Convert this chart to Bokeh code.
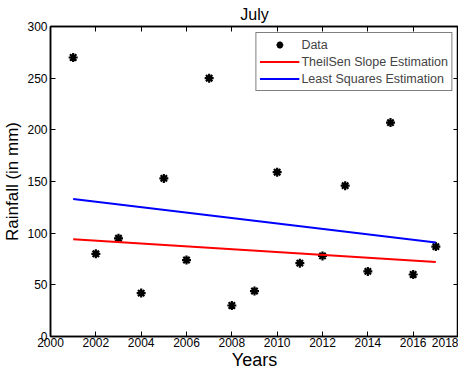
from bokeh.plotting import figure
from bokeh.models import LinearAxis, Range1d, Legend, LegendItem, FixedTicker, CustomJSTickFormatter
from bokeh.embed import file_html
from bokeh.resources import INLINE

# ---- data ----
years = list(range(2001, 2018))
rainfall = [270, 80, 95, 42, 153, 74, 250, 30, 44, 159, 71, 78, 146, 63, 207, 60, 87]
trend_years = [2001, 2017]
theilsen = [94, 72]
least_squares = [133, 91]
x_ticks = list(range(2000, 2019, 2))
y_ticks = [0, 50, 100, 150, 200, 250, 300]

FONT = "Liberation Sans"

p = figure(width=458, height=372, output_backend="svg", toolbar_location=None,
           x_range=Range1d(2000, 2018), y_range=Range1d(0, 300),
           min_border_left=0, min_border_right=0, min_border_top=0, min_border_bottom=0)

p.title.text = "July"
p.title.align = "center"
p.title.text_font = FONT
p.title.text_font_size = "16px"
p.title.text_font_style = "normal"
p.title.text_color = "black"
p.title.standoff = 7

p.xgrid.visible = False
p.ygrid.visible = False
p.outline_line_color = "black"
p.outline_line_width = 1.5

def style_axis(ax, ticks, labels=True):
    ax.ticker = FixedTicker(ticks=ticks)
    ax.axis_line_color = "black"
    ax.axis_line_width = 1.5
    ax.major_tick_in = 5
    ax.major_tick_out = 0
    ax.major_tick_line_color = "black"
    ax.minor_tick_line_color = None
    ax.major_label_text_font = FONT
    ax.major_label_text_font_size = "12px"
    ax.major_label_text_color = "black"
    ax.axis_label_text_font = FONT
    ax.axis_label_text_font_style = "normal"
    ax.axis_label_text_color = "black"
    if not labels:
        ax.formatter = CustomJSTickFormatter(code="return '';")
        ax.major_label_standoff = 0

style_axis(p.xaxis[0], x_ticks)
style_axis(p.yaxis[0], y_ticks)
p.xaxis[0].axis_label = "Years"
p.xaxis[0].axis_label_text_font_size = "18px"
p.xaxis[0].axis_label_standoff = 0
p.xaxis[0].major_label_standoff = 1
p.yaxis[0].axis_label = "Rainfall (in mm)"
p.yaxis[0].axis_label_text_font_size = "17px"
p.yaxis[0].axis_label_standoff = 2
p.yaxis[0].major_label_standoff = 3

top = LinearAxis()
style_axis(top, x_ticks, labels=False)
p.add_layout(top, "above")
right = LinearAxis()
style_axis(right, y_ticks, labels=False)
p.add_layout(right, "right")

r_data = p.scatter(years, rainfall, marker="asterisk", size=9, line_color="black", line_width=2.2)
r_ts = p.line(trend_years, theilsen, line_color="#ff0000", line_width=2)
r_ls = p.line(trend_years, least_squares, line_color="#0000ff", line_width=2)

legend = Legend(items=[
    LegendItem(label="Data", renderers=[r_data]),
    LegendItem(label="TheilSen Slope Estimation", renderers=[r_ts]),
    LegendItem(label="Least Squares Estimation", renderers=[r_ls]),
], location="top_right")
legend.label_text_font = FONT
legend.label_text_font_size = "12.5px"
legend.border_line_color = "black"
legend.border_line_width = 1
legend.margin = 6
legend.padding = 3
legend.spacing = 0
legend.glyph_width = 40
legend.glyph_height = 17
legend.label_height = 17
legend.label_standoff = 2
p.add_layout(legend)

open("out.html", "w").write(file_html(p, INLINE))
